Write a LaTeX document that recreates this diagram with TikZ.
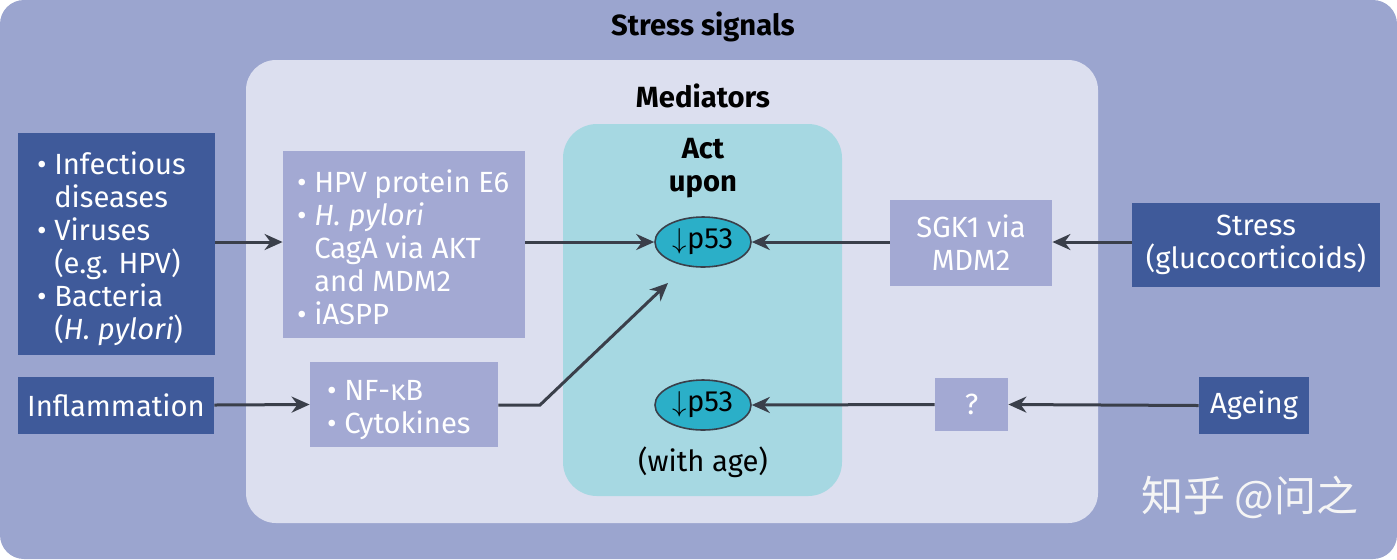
\documentclass[tikz,border=0pt]{standalone}
\usepackage{fontspec}
\setmainfont{Fira Sans}
\newfontfamily\cjk{Noto Sans CJK SC}
\usetikzlibrary{arrows.meta,shapes.geometric}
\definecolor{outer}{HTML}{9BA5CF}
\definecolor{panel}{HTML}{DCDFEF}
\definecolor{cyanbox}{HTML}{A6D8E2}
\definecolor{darkb}{HTML}{3F5A9A}
\definecolor{lightb}{HTML}{A3A9D3}
\definecolor{ell}{HTML}{2BAFC8}
\definecolor{arr}{HTML}{3A3F4A}
\begin{document}
\begin{tikzpicture}[x=0.5pt,y=-0.5pt,
  txt/.style={font=\fontsize{14.6}{16.5}\selectfont},
  ttl/.style={font=\fontsize{14.6}{16.5}\selectfont\bfseries},
  dark/.style={fill=darkb,text=white,txt,inner sep=0pt},
  light/.style={fill=lightb,text=white,txt,inner sep=0pt},
  ar/.style={draw=arr,line width=1.5pt,-{Stealth[length=9pt,width=8pt]}},
  p53/.style={ellipse,draw=arr,line width=0.8pt,fill=ell,minimum width=48pt,minimum height=25pt,inner sep=0pt,txt}]
\useasboundingbox (0,0) rectangle (1397,559);
\fill[outer,rounded corners=12pt] (0,0) rectangle (1397,559);
\node[ttl] (ss) at (703,27) {Stress signals};
\fill[panel,rounded corners=15pt] (246,60) rectangle (1098,523);
\node[ttl] (med) at (703,96) {Mediators};
\fill[cyanbox,rounded corners=17pt] (563,124) rectangle (842,496);
\node[ttl,align=center] (act) at (703,168) {Act\\upon};
\node[p53] (pa) at (703,242) {$\downarrow$p53};
\node[p53] (pb) at (703,405) {$\downarrow$p53};
\node[txt] (age) at (703,462) {(with age)};
% left
\node[dark,minimum width=98.5pt,minimum height=111pt] (inf) at (116.5,244) {};
\node[txt,text=white,align=left,anchor=north west] at (30,145) {• Infectious\\\phantom{• }diseases\\• Viruses\\\phantom{• }(e.g. HPV)\\• Bacteria\\\phantom{• }(\textit{H. pylori})};
\node[dark,minimum width=98pt,minimum height=28.5pt] (infl) at (116,405) {Inflammation};
\node[light,minimum width=121pt,minimum height=93.5pt] (hpv) at (404,244.5) {};
\node[txt,text=white,align=left,anchor=north west] at (290,163) {• HPV protein E6\\• \textit{H. pylori}\\\phantom{• }CagA via AKT\\\phantom{• }and MDM2\\• iASPP};
\node[light,minimum width=94pt,minimum height=42.5pt] (nf) at (404,404.5) {};
\node[txt,text=white,align=left,anchor=north west] at (320,373) {• NF-κB\\• Cytokines};
% right
\node[light,minimum width=81pt,minimum height=43pt,align=center] (sgk) at (971,243) {SGK1 via\\MDM2};
\node[dark,minimum width=124pt,minimum height=42pt,align=center] (str) at (1256,245) {Stress\\(glucocorticoids)};
\node[light,minimum width=36.5pt,minimum height=26.5pt] (q) at (971.5,404.5) {?};
\node[dark,minimum width=55pt,minimum height=28.5pt] (ag) at (1254,405.5) {Ageing};
\coordinate (bend) at (540,405);
\draw[ar] (inf.east|-pa) -- (hpv.west|-pa);
\draw[ar] (hpv.east|-pa) -- (pa.west);
\draw[ar] (str.west|-pa) -- (sgk.east|-pa);
\draw[ar] (sgk.west|-pa) -- (pa.east);
\draw[ar] (infl.east) -- (nf.west);
\draw[ar] (nf.east|-bend) -- (bend) -- (668,283);
\draw[ar] (ag.west) -- (q.east);
\draw[ar] (q.west) -- (pb.east);
\node[font=\cjk\fontsize{21}{24}\selectfont,text=white!92!gray] (wm) at (1250,497) {知乎 @问之};
\end{tikzpicture}
\end{document}
